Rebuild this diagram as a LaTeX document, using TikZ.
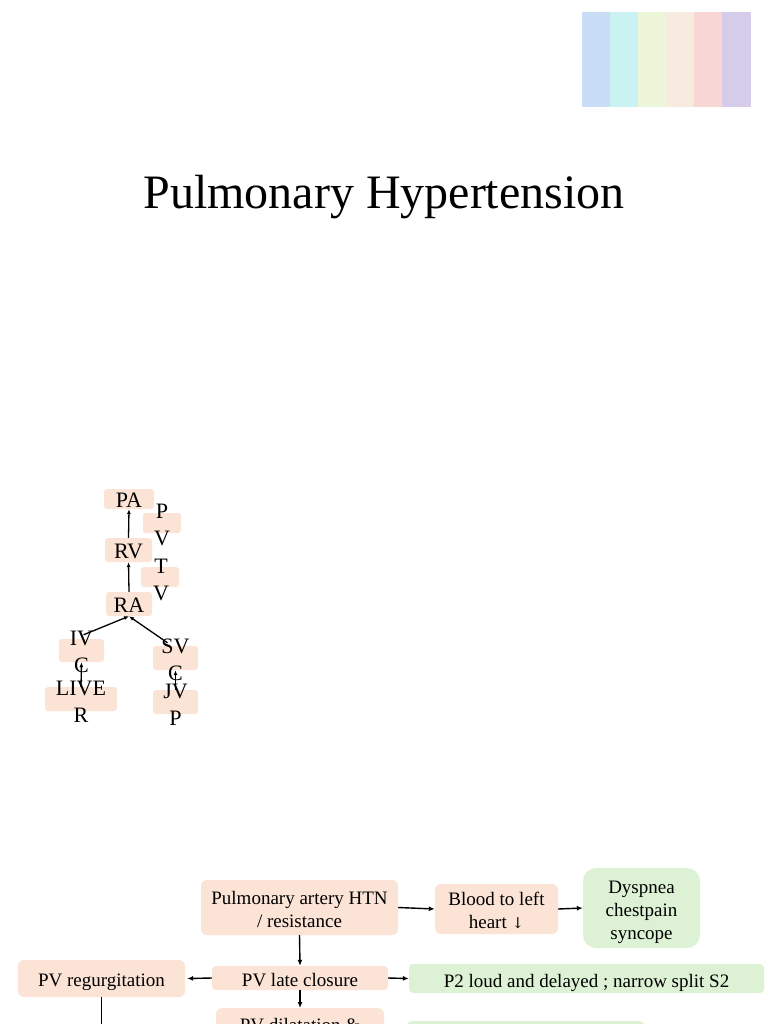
\documentclass[tikz,border=0pt]{standalone}
\usepackage{fontspec}
\setmainfont{Liberation Serif}
\usetikzlibrary{arrows.meta,calc}
\definecolor{peach}{HTML}{FBE3D6}
\definecolor{mint}{HTML}{DDF2D5}
\definecolor{s1}{HTML}{C9DEF6}
\definecolor{s2}{HTML}{CAF2F3}
\definecolor{s3}{HTML}{EEF6DA}
\definecolor{s4}{HTML}{F7EADF}
\definecolor{s5}{HTML}{F8D6D5}
\definecolor{s6}{HTML}{D5CCEA}
\tikzset{
  sbox/.style={fill=peach, draw=none, rounded corners=3pt, inner sep=0pt},
  stxt/.style={inner sep=0pt, align=center, text depth=0pt, font=\fontsize{22}{27}\selectfont},
  sarr/.style={-{Latex[length=5pt,width=4pt]}, line width=1.3pt},
  fbox/.style={fill=peach, draw=none, rounded corners=6pt, inner sep=0pt},
  gbox/.style={fill=mint, draw=none, rounded corners=6pt, inner sep=0pt},
  ftxt/.style={inner sep=0pt, align=center, text depth=0pt, font=\fontsize{19}{23}\selectfont},
  farr/.style={-{Latex[length=6pt,width=5pt]}, line width=1.4pt},
}
\begin{document}
\begin{tikzpicture}[x=1pt,y=-1pt]
\useasboundingbox (0,0) rectangle (768,1024);
\clip (0,0) rectangle (768,1024);
% colour stripes
\fill[s1] (582,12) rectangle (610,107);
\fill[s2] (610,12) rectangle (638,107);
\fill[s3] (638,12) rectangle (666,107);
\fill[s4] (666,12) rectangle (694,107);
\fill[s5] (694,12) rectangle (722,107);
\fill[s6] (722,12) rectangle (751,107);
% title
\node[inner sep=0pt, text depth=0pt, font=\fontsize{48}{56}\selectfont] (title) at (384,192) {Pulmonary Hypertension};
% small diagram boxes
\node[sbox, minimum width=50pt, minimum height=20pt] (pa) at (129,499) {};
\node[sbox, minimum width=38pt, minimum height=20pt] (pv) at (162,523) {};
\node[sbox, minimum width=47pt, minimum height=24pt] (rv) at (128.5,550) {};
\node[sbox, minimum width=38pt, minimum height=20pt] (tv) at (160,577) {};
\node[sbox, minimum width=46pt, minimum height=24pt] (ra) at (129,604) {};
\node[sbox, minimum width=45pt, minimum height=23pt] (ivc) at (81.5,650.5) {};
\node[sbox, minimum width=45pt, minimum height=24pt] (svc) at (175.5,658) {};
\node[sbox, minimum width=72pt, minimum height=24pt] (liver) at (81,699) {};
\node[sbox, minimum width=45pt, minimum height=24pt] (jvp) at (175.5,702) {};
% small diagram texts
\node[stxt] (pat) at ($(pa.center)+(0,1.5)$) {PA};
\node[stxt] (pvt) at ($(pv.center)+(0,2)$) {P\\V};
\node[stxt] (rvt) at ($(rv.center)+(0,1.5)$) {RV};
\node[stxt] (tvt) at ($(tv.center)+(1,2.5)$) {T\\V};
\node[stxt] (rat) at ($(ra.center)+(0,1.5)$) {RA};
\node[stxt] (ivct) at ($(ivc.center)+(0,1.5)$) {IV\\C};
\node[stxt] (svct) at ($(svc.center)+(0,2)$) {SV\\C};
\node[stxt] (livert) at ($(liver.center)+(0,3)$) {LIVE\\R};
\node[stxt] (jvpt) at ($(jvp.center)+(0,2.5)$) {JV\\P};
% small diagram arrows
\draw[sarr] (ra.north) -- (rv.south);
\draw[sarr] (rv.north) -- (pa.south);
\draw[sarr] ($(ivc.north)+(2,-4)$) -- (ra.south);
\draw[sarr] ($(svc.north)+(-8,-3)$) -- (ra.south);
\draw[sarr] (liver.north) -- (ivc.south);
\draw[sarr] (jvp.north) -- (svc.south);
% flowchart boxes
\node[fbox, minimum width=197pt, minimum height=55pt] (htn) at (299.5,907.5) {};
\node[fbox, minimum width=123pt, minimum height=50pt] (blood) at (496.5,909) {};
\node[gbox, rounded corners=13pt, minimum width=117pt, minimum height=80pt] (dys) at (641.5,908) {};
\node[fbox, minimum width=167pt, minimum height=37pt] (pvr) at (101.5,978.5) {};
\node[fbox, rounded corners=4pt, minimum width=176pt, minimum height=24pt] (pvl) at (300,978) {};
\node[gbox, rounded corners=4pt, minimum width=355pt, minimum height=29pt] (p2) at (586.5,978.5) {};
\node[fbox, anchor=north, minimum width=168pt, minimum height=50pt] (pvd) at (300,1008) {};
\node[gbox, anchor=north west, minimum width=239pt, minimum height=40pt] (gb) at (406,1021) {};
% flowchart texts
\node[ftxt] (htnt) at ($(htn.center)+(0,2)$) {Pulmonary artery HTN\\/ resistance};
\node[ftxt] (bloodt) at ($(blood.center)+(0,1.5)$) {Blood to left\\heart {\fontspec{DejaVu Serif}\fontsize{15}{23}\selectfont ↓}};
\node[ftxt] (dyst) at ($(dys.center)+(0,2)$) {Dyspnea\\chestpain\\syncope};
\node[ftxt] (pvrt) at ($(pvr.center)+(0,2)$) {PV regurgitation};
\node[ftxt] (pvlt) at ($(pvl.center)+(0,2)$) {PV late closure};
\node[ftxt] (p2t) at ($(p2.center)+(0,2)$) {P2 loud and delayed ; narrow split S2};
\node[ftxt, anchor=base] (pvdt) at (300,1031) {PV dilatation \&};
% flowchart connectors
\coordinate (pvrend) at (101.5,1040);
\draw[farr] (htn.east) -- (blood.west);
\draw[farr] (blood.east) -- (dys.west);
\draw[farr] (htn.south) -- (pvl.north);
\draw[farr] (pvl.west) -- ($(pvr.east)+(2,0)$);
\draw[farr] (pvl.east) -- (p2.west);
\draw[farr] (pvl.south) -- (pvd.north);
\draw[line width=1.4pt] (pvr.south) -- (pvrend);
\end{tikzpicture}
\end{document}
